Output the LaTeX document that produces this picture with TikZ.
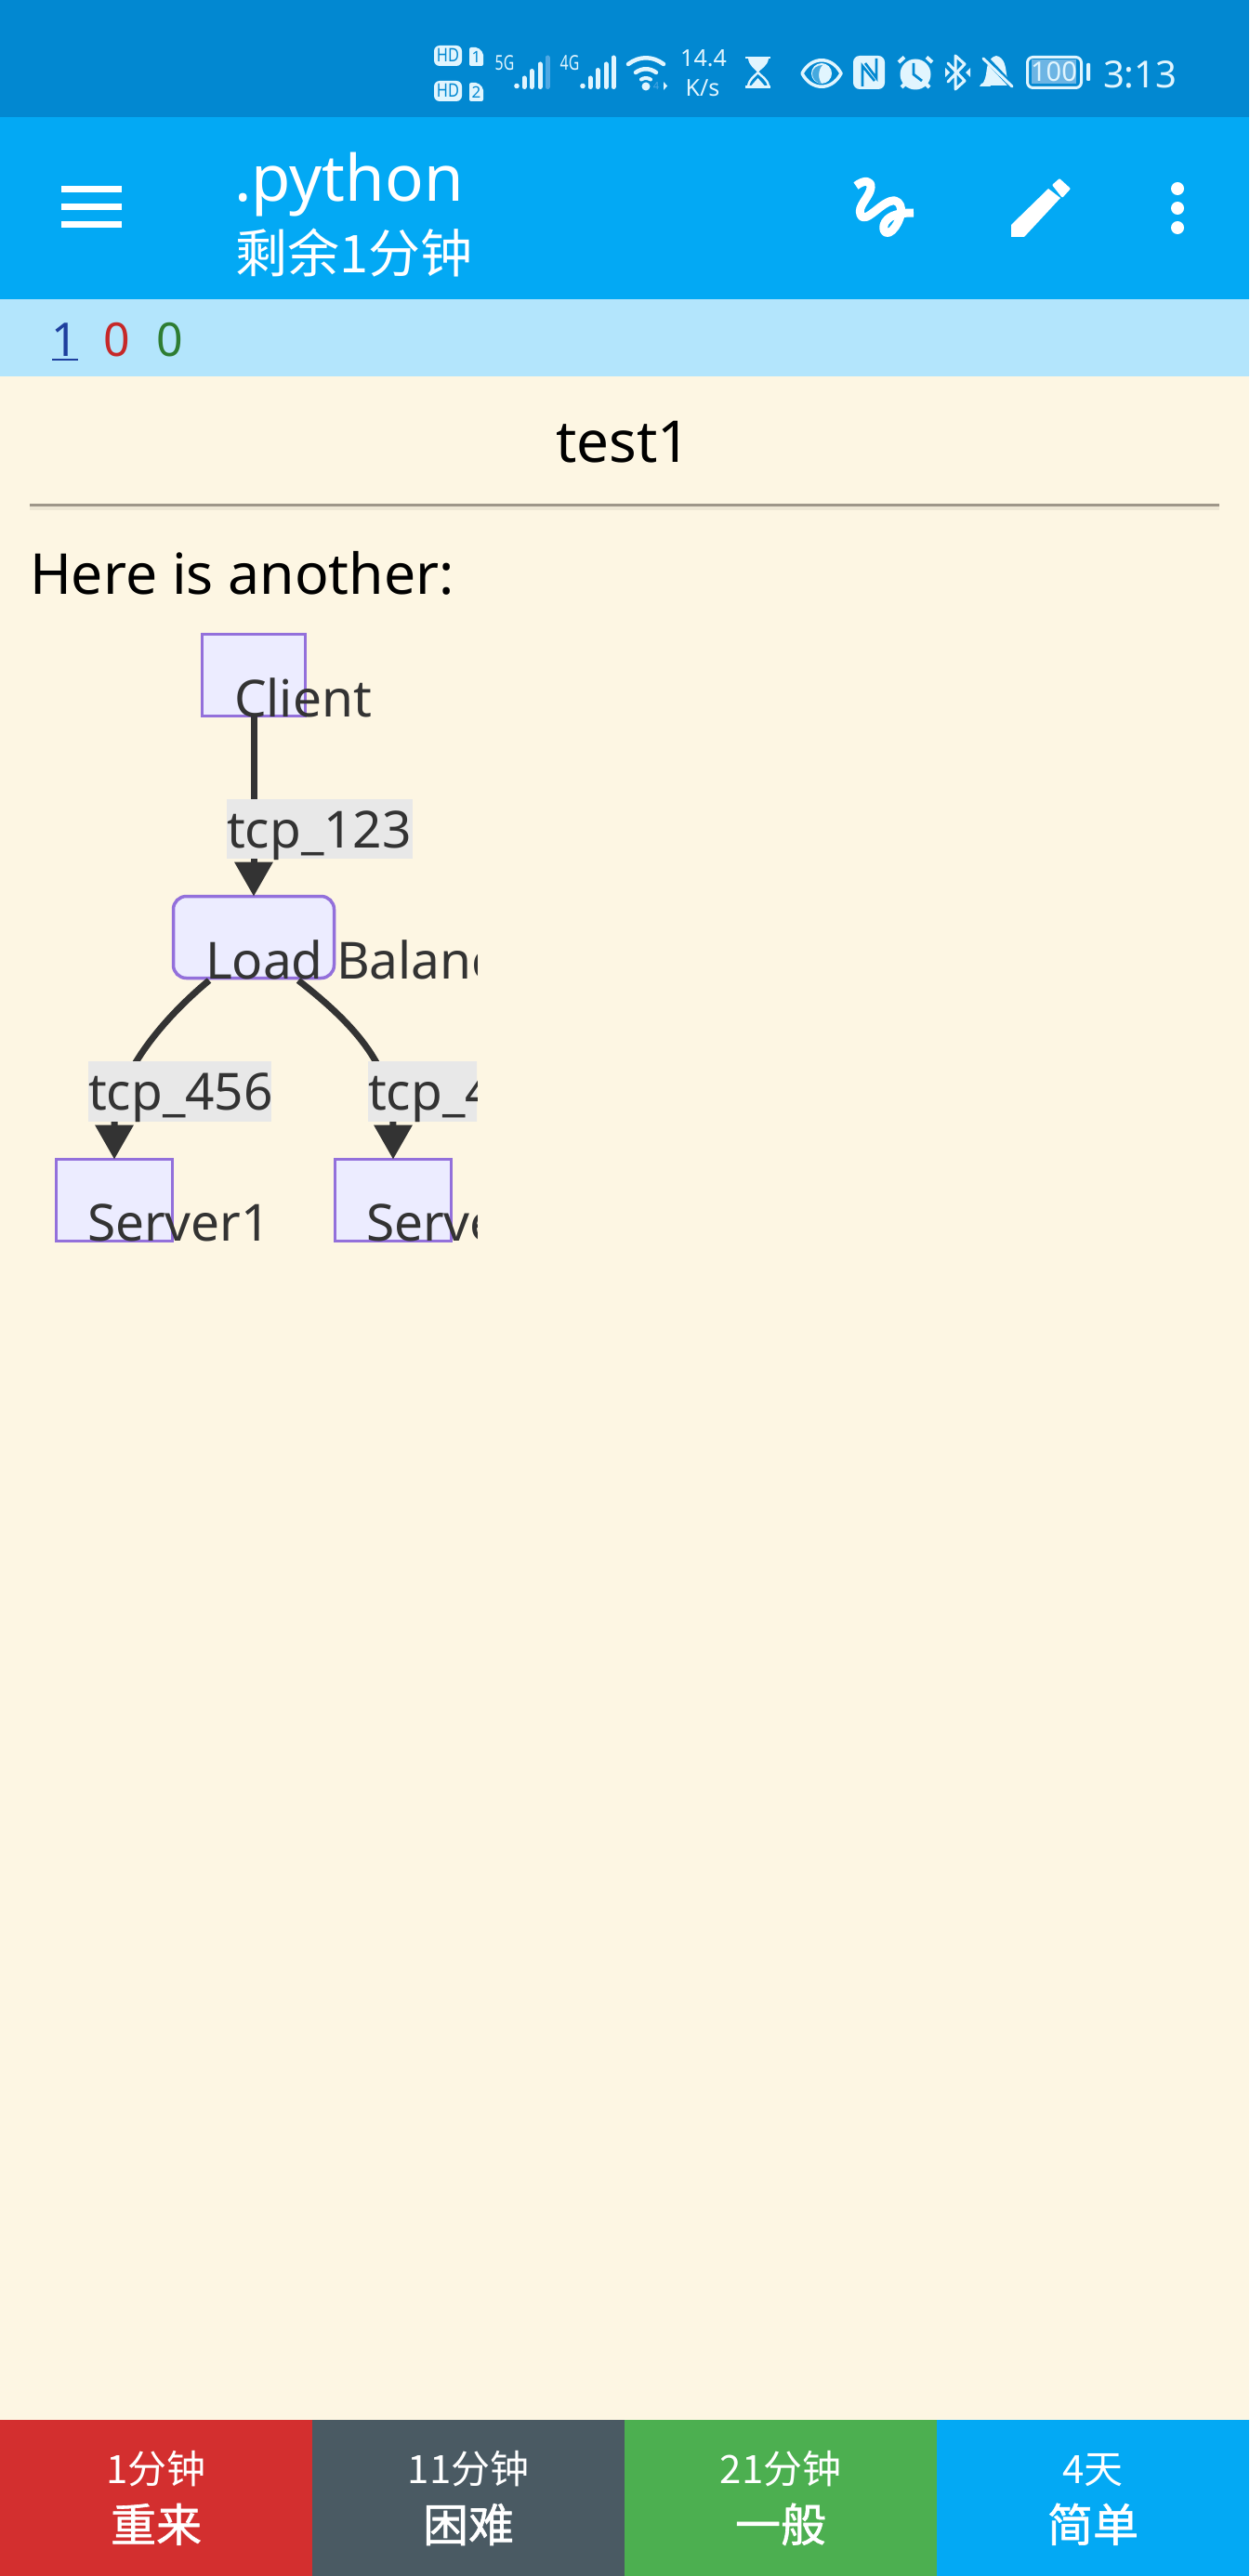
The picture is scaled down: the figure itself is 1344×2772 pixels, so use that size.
\documentclass[tikz,border=0pt]{standalone}
\usepackage{fontspec}
\setmainfont{Noto Sans}
\newfontfamily\cjk{Noto Sans CJK SC}
\newfontfamily\cjkm[FakeBold=1.2]{Noto Sans CJK SC}
\usetikzlibrary{arrows.meta}
\newcommand{\fsz}[1]{\fontsize{#1}{#1}\selectfont}
\definecolor{statusblue}{HTML}{0288D1}
\definecolor{barblue}{HTML}{03A9F4}
\definecolor{bandblue}{HTML}{B3E5FC}
\definecolor{paper}{HTML}{FDF6E3}
\definecolor{pale}{HTML}{E1F5FE}
\definecolor{dimblue}{HTML}{4FA8E3}
\definecolor{batfill}{HTML}{6DB5E4}
\definecolor{nodefill}{HTML}{ECECFF}
\definecolor{nodeline}{HTML}{9370DB}
\definecolor{edgeink}{HTML}{333333}
\definecolor{labelbg}{HTML}{E8E8E8}
\definecolor{hrgrey}{HTML}{9E9689}
\definecolor{cntblue}{HTML}{1E3F9E}
\definecolor{cntred}{HTML}{C62828}
\definecolor{cntgreen}{HTML}{2E7D32}
\definecolor{btnred}{HTML}{D32F2F}
\definecolor{btngrey}{HTML}{4A5A63}
\definecolor{btngreen}{HTML}{4CAF50}
\tikzset{
  base/.style={inner sep=0pt,outer sep=0pt,anchor=base west},
  basec/.style={inner sep=0pt,outer sep=0pt,anchor=base},
  flowbox/.style={draw=nodeline,fill=nodefill,line width=3.5pt,inner sep=0pt,outer sep=0pt},
  flowtext/.style={base,text=edgeink,font=\fsz{55}},
  flowlabel/.style={fill=labelbg,inner sep=0pt,outer sep=0pt,anchor=north west},
  flowedge/.style={draw=edgeink,line width=7pt,-{Triangle[length=37pt,width=40pt]}},
  bar/.style={line width=5pt,line cap=round,draw=pale},
  icon/.style={draw=pale,line width=3.5pt,line cap=round,line join=round},
  btnsmall/.style={basec,text=white,font=\cjk\fsz{42}},
  btnbig/.style={basec,text=white,font=\cjkm\fsz{49}},
}
\begin{document}
\begin{tikzpicture}[x=1pt,y=-1pt]
\useasboundingbox (0,0) rectangle (1344,2772);
% backgrounds
\fill[paper] (0,0) rectangle (1344,2772);
\fill[statusblue] (0,0) rectangle (1344,126);
\fill[barblue] (0,126) rectangle (1344,322);
\fill[bandblue] (0,322) rectangle (1344,405);

% --- status bar
\fill[pale,rounded corners=6pt] (467,49) rectangle (497,71);
\node[basec,text=statusblue,font=\bfseries\fsz{20},xscale=.82,transform shape] (hda) at (482,67) {HD};
\fill[pale,rounded corners=2pt] (505,51) -- (514,51) -- (520,57) -- (520,71) -- (505,71) -- cycle;
\node[basec,text=statusblue,font=\bfseries\fsz{17}] (sima) at (512.5,67.5) {1};
\fill[pale,rounded corners=6pt] (467,87) rectangle (497,109);
\node[basec,text=statusblue,font=\bfseries\fsz{20},xscale=.82,transform shape] (hdb) at (482,105) {HD};
\fill[pale,rounded corners=2pt] (505,89) -- (514,89) -- (520,95) -- (520,109) -- (505,109) -- cycle;
\node[basec,text=statusblue,font=\bfseries\fsz{17}] (simb) at (512.5,105.5) {2};
\node[basec,text=pale,font=\bfseries\fsz{22},xscale=.72,transform shape] (fiveg) at (543,75.5) {5G};
\fill[pale] (556,92.5) circle (2.8);
\draw[bar] (564,84) -- (564,93.5);
\draw[bar] (572,76.5) -- (572,93.5);
\draw[bar] (581,69) -- (581,93.5);
\draw[bar,draw=dimblue] (589,62) -- (589,93.5);
\node[basec,text=pale,font=\bfseries\fsz{22},xscale=.72,transform shape] (fourg) at (613,75.5) {4G};
\fill[pale] (627,92.5) circle (2.8);
\draw[bar] (635,84) -- (635,93.5);
\draw[bar] (643,75.5) -- (643,93.5);
\draw[bar] (652,69) -- (652,93.5);
\draw[bar] (660,62) -- (660,93.5);
\draw[icon,line width=4.5pt] (676,69) .. controls (688,60) and (702,60) .. (714,69);
\draw[icon,line width=4.5pt] (684,78) .. controls (691,73) and (699,73) .. (706,78);
\draw[icon,line width=4pt] (690,85.5) .. controls (693,83.5) and (697,83.5) .. (700,85.5);
\fill[pale] (695,93) circle (4.5);
\node[basec,text=dimblue,font=\fsz{11}] (wifif) at (706,97) {4};
\fill[pale] (714,88) -- (718,92.5) -- (714,97) -- cycle;
\node[basec,text=pale,font=\fsz{25}] (speed) at (757,72) {14.4};
\node[basec,text=pale,font=\fsz{25}] (unit) at (756,104) {K/s};
% hourglass
\fill[pale] (802,61) rectangle (829,63.5);
\fill[pale] (805,63) .. controls (806,71) and (812,74) .. (815.5,78) .. controls (819,74) and (826,71) .. (827,63) -- cycle;
\draw[pale,line width=2.4pt] (815.5,78) .. controls (812,82) and (806,85) .. (805,93);
\draw[pale,line width=2.4pt] (815.5,78) .. controls (819,82) and (826,85) .. (827,93);
\fill[pale] (802,92.5) rectangle (829,95);
\fill[pale] (815.5,84) -- (808,92.5) -- (823,92.5) -- cycle;
% eye
\draw[icon] (863,79) .. controls (873,60) and (895,60) .. (905,79) .. controls (895,98) and (873,98) .. (863,79) -- cycle;
\fill[pale] (884,79) circle (11);
\fill[statusblue!70!pale] (874,79) .. controls (874,85) and (878,89) .. (884,90) .. controls (880,85) and (880,75) .. (885,70) .. controls (879,70) and (874,74) .. (874,79) -- cycle;
% NFC
\fill[pale,rounded corners=7pt] (918,60) rectangle (952,96);
\draw[statusblue,line width=2.6pt] (928,93) -- (928,71) -- (941,87);
\draw[statusblue,line width=2.6pt] (931,68) -- (943,84) -- (943,63);
% alarm
\fill[pale] (985,80) circle (16.5);
\draw[icon,line width=4pt,line cap=butt] (967,67) -- (973,61.5);
\draw[icon,line width=4pt,line cap=butt] (997,61.5) -- (1003,67);
\draw[icon,line width=4pt,line cap=butt] (970,94) -- (975,89);
\draw[icon,line width=4pt,line cap=butt] (995,89) -- (1000,94);
\draw[statusblue,line width=2.8pt] (983,68) -- (983,80) -- (992,87);
% bluetooth
\draw[icon,line width=3pt] (1020,68) -- (1038,87) -- (1028,96) -- (1028,60) -- (1038,69) -- (1020,88);
\fill[pale] (1017,73) -- (1022,78) -- (1017,83) -- cycle;
\fill[pale] (1044,73) -- (1039,78) -- (1044,83) -- cycle;
% bell
\fill[pale] (1072,60) .. controls (1063,62) and (1062,72) .. (1061,80) .. controls (1060,86) and (1058,89) .. (1056,92) -- (1088,92) .. controls (1086,89) and (1084,86) .. (1083,80) .. controls (1082,72) and (1081,62) .. (1072,60) -- cycle;
\fill[pale] (1066,93) arc (180:0:-6 and -4) -- cycle;
\draw[statusblue,line width=6pt] (1060,62) -- (1092,96);
\draw[pale,line width=3pt,line cap=round] (1058,63) -- (1089,93);
% battery
\fill[batfill] (1110,64) rectangle (1158,90);
\draw[pale,line width=3pt,rounded corners=6pt] (1105.5,61.5) rectangle (1163.5,94.5);
\fill[pale,rounded corners=1pt] (1169,68) rectangle (1173,87);
\node[basec,text=pale,font=\fsz{29}] (batt) at (1134,88) {100};
\node[base,text=pale,font=\fsz{40}] (clock) at (1187,95) {3:13};

% --- app bar
\fill[white] (66,200) rectangle (131,207);
\fill[white] (66,219) rectangle (131,226);
\fill[white] (66,238) rectangle (131,245);
\node[base,text=white,font=\fsz{69}] (deck) at (252,217) {.python};
\node[base,text=white,font=\cjk\fsz{56}] (remain) at (253,294) {剩余1分钟};
\draw[white,line width=9pt,line cap=butt,line join=round] (921,200) .. controls (930,193) and (938,194) .. (937,202) .. controls (936,212) and (922,222) .. (926,231) .. controls (931,243) and (950,214) .. (963,216) .. controls (974,219) and (970,238) .. (960,248) .. controls (951,256) and (947,243) .. (955,236) .. controls (961,230) and (972,229) .. (983,229);
\fill[white] (1088,255) -- (1088,242) -- (1128,203) -- (1141,213) -- (1102,255) -- cycle;
\fill[white,rounded corners=1pt] (1132,199) -- (1140,192) -- (1152,203) -- (1143,213) -- cycle;
\fill[white] (1267,203) circle (7);
\fill[white] (1267,224) circle (7);
\fill[white] (1267,245) circle (7);

% --- counts band
\node[base,text=cntblue,font=\fsz{50}] (cnta) at (55,383) {1};
\draw[cntblue,line width=2.5pt] (56,387) -- (84,387);
\node[base,text=cntred,font=\fsz{50}] (cntb) at (111,383) {0};
\node[base,text=cntgreen,font=\fsz{50}] (cntc) at (168,383) {0};

% --- card text
\node[basec,text=black,font=\fsz{62}] (title) at (671,497) {test1};
\draw[hrgrey,line width=3pt] (32,543) -- (1312,543);
\draw[black!6!paper,line width=4pt] (32,546.5) -- (1312,546.5);
\node[base,text=black,font=\fsz{60.7}] (intro) at (32,639) {Here is another:};

% --- flow chart (clipped as in the reference)
\begin{scope}
\clip (0,660) rectangle (513,1400);
\node[flowbox,minimum width=111pt,minimum height=88pt] (client) at (273,726.5) {};
\node[flowbox,minimum width=173pt,minimum height=88pt,rounded corners=14pt] (lb) at (273,1008.5) {};
\node[flowbox,minimum width=125pt,minimum height=88pt] (srva) at (123,1291.5) {};
\node[flowbox,minimum width=125pt,minimum height=88pt] (srvb) at (423,1291.5) {};
\coordinate (lbleft) at (225,1055);
\coordinate (lbright) at (321,1055);
\draw[flowedge] (client.south) -- (lb.north);
\draw[flowedge] (lbleft) .. controls (165,1105) and (123,1165) .. (srva.north);
\draw[flowedge] (lbright) .. controls (385,1105) and (423,1150) .. (srvb.north);
\node[flowlabel,minimum width=200pt,minimum height=64pt] (labela) at (244,860) {};
\node[flowlabel,minimum width=197pt,minimum height=65pt] (labelb) at (95,1142) {};
\node[flowlabel,minimum width=197pt,minimum height=65pt] (labelc) at (396,1142) {};
\node[flowtext] (clienttxt) at (252,771) {Client};
\node[flowtext] (lbtxt) at (221,1053) {Load Balancer};
\node[flowtext] (srvatxt) at (94,1335) {Server1};
\node[flowtext] (srvbtxt) at (394,1335) {Server2};
\node[flowtext] (labelatxt) at (244,912) {tcp\_123};
\node[flowtext] (labelbtxt) at (95,1194) {tcp\_456};
\node[flowtext] (labelctxt) at (396,1194) {tcp\_456};
\end{scope}

% --- answer buttons
\fill[btnred] (0,2604) rectangle (336,2772);
\fill[btngrey] (336,2604) rectangle (672,2772);
\fill[btngreen] (672,2604) rectangle (1008,2772);
\fill[barblue] (1008,2604) rectangle (1344,2772);
\node[btnsmall] (again) at (168,2672) {1分钟};
\node[btnbig] (againb) at (168,2735) {重来};
\node[btnsmall] (hard) at (504,2672) {11分钟};
\node[btnbig] (hardb) at (504,2735) {困难};
\node[btnsmall] (good) at (840,2672) {21分钟};
\node[btnbig] (goodb) at (840,2735) {一般};
\node[btnsmall] (easy) at (1176,2672) {4天};
\node[btnbig] (easyb) at (1176,2735) {简单};
\end{tikzpicture}
\end{document}
